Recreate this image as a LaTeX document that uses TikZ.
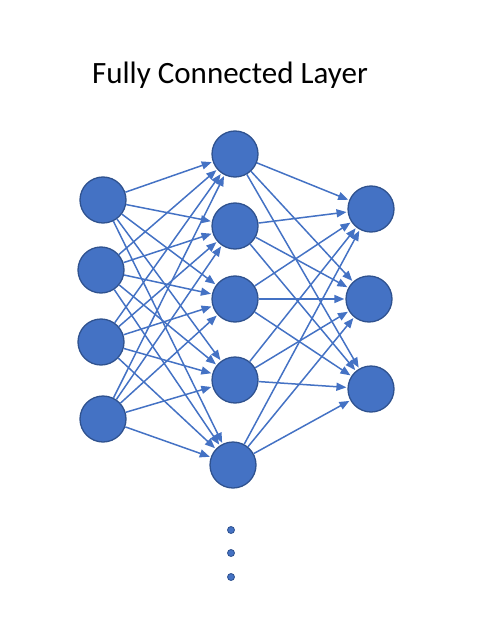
\documentclass[tikz,border=0pt]{standalone}
\usepackage{fontspec}
\setmainfont{Carlito}
\usetikzlibrary{arrows.meta}
\definecolor{nodeblue}{HTML}{4472C4}
\definecolor{rimblue}{HTML}{2F528F}

\begin{document}
\begin{tikzpicture}[x=1pt,y=-1pt,>={Triangle[length=10pt,width=8pt]},
  nd/.style={draw=rimblue,line width=1.3pt,circle,fill=nodeblue,minimum size=46pt,inner sep=0pt},
  dt/.style={draw=rimblue,line width=0.8pt,circle,fill=nodeblue,minimum size=7pt,inner sep=0pt},
  ed/.style={->,draw=nodeblue,line width=1.5pt,shorten >=1pt}]
  \useasboundingbox (0,0) rectangle (490,628);
  \node[font=\fontsize{31}{36}\selectfont] (title) at (230,75) {Fully Connected Layer};
  % input layer
  \node[nd] (i1) at (103,200) {};
  \node[nd] (i2) at (101,270) {};
  \node[nd] (i3) at (101,342) {};
  \node[nd] (i4) at (103,419) {};
  % hidden layer
  \node[nd] (h1) at (235,154) {};
  \node[nd] (h2) at (235,226) {};
  \node[nd] (h3) at (235,299) {};
  \node[nd] (h4) at (235,380) {};
  \node[nd] (h5) at (233,465) {};
  % output layer
  \node[nd] (o1) at (371,209) {};
  \node[nd] (o2) at (369,299) {};
  \node[nd] (o3) at (371,389) {};
  % connections
  \foreach \a in {1,...,4}
    \foreach \b in {1,...,5}
      \draw[ed] (i\a) -- (h\b);
  \foreach \a in {1,...,5}
    \foreach \b in {1,...,3}
      \draw[ed] (h\a) -- (o\b);
  % more units
  \node[dt] (d1) at (231,530) {};
  \node[dt] (d2) at (231,553) {};
  \node[dt] (d3) at (231,577) {};
\end{tikzpicture}
\end{document}
